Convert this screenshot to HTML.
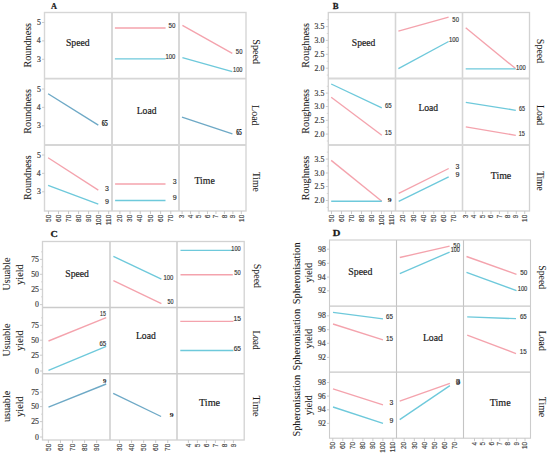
<!DOCTYPE html><html><head><meta charset="utf-8"><style>html,body{margin:0;padding:0;background:#fff;}svg{display:block;}</style></head><body>
<svg width="550" height="456" viewBox="0 0 550 456">
<rect width="550" height="456" fill="#fff"/>
<line x1="112" y1="12.5" x2="112" y2="211" stroke="#d8d8d8" stroke-width="2.0"/>
<line x1="179" y1="12.5" x2="179" y2="211" stroke="#d8d8d8" stroke-width="2.0"/>
<line x1="44.5" y1="78.7" x2="246" y2="78.7" stroke="#d6d6d6" stroke-width="1.8"/>
<line x1="44.5" y1="145" x2="246" y2="145" stroke="#d6d6d6" stroke-width="1.8"/>
<rect x="44.5" y="12.5" width="201.5" height="198.5" fill="none" stroke="#d6d6d6" stroke-width="1.4"/>
<line x1="42" y1="22.5" x2="44.5" y2="22.5" stroke="#c6c6c6" stroke-width="0.9"/>
<text transform="translate(36.91,25.02) scale(1.0000,1)" font-family="Liberation Serif" font-weight="normal" font-size="7.800" fill="#444" stroke="#444" stroke-width="0.2">5</text>
<line x1="42" y1="40.9" x2="44.5" y2="40.9" stroke="#c6c6c6" stroke-width="0.9"/>
<text transform="translate(36.72,43.47) scale(1.0000,1)" font-family="Liberation Serif" font-weight="normal" font-size="7.800" fill="#444" stroke="#444" stroke-width="0.2">4</text>
<line x1="42" y1="59.3" x2="44.5" y2="59.3" stroke="#c6c6c6" stroke-width="0.9"/>
<text transform="translate(36.91,61.83) scale(1.0000,1)" font-family="Liberation Serif" font-weight="normal" font-size="7.800" fill="#444" stroke="#444" stroke-width="0.2">3</text>
<line x1="42" y1="89" x2="44.5" y2="89" stroke="#c6c6c6" stroke-width="0.9"/>
<text transform="translate(36.91,91.52) scale(1.0000,1)" font-family="Liberation Serif" font-weight="normal" font-size="7.800" fill="#444" stroke="#444" stroke-width="0.2">5</text>
<line x1="42" y1="107.4" x2="44.5" y2="107.4" stroke="#c6c6c6" stroke-width="0.9"/>
<text transform="translate(36.72,109.97) scale(1.0000,1)" font-family="Liberation Serif" font-weight="normal" font-size="7.800" fill="#444" stroke="#444" stroke-width="0.2">4</text>
<line x1="42" y1="125.8" x2="44.5" y2="125.8" stroke="#c6c6c6" stroke-width="0.9"/>
<text transform="translate(36.91,128.34) scale(1.0000,1)" font-family="Liberation Serif" font-weight="normal" font-size="7.800" fill="#444" stroke="#444" stroke-width="0.2">3</text>
<line x1="42" y1="155" x2="44.5" y2="155" stroke="#c6c6c6" stroke-width="0.9"/>
<text transform="translate(36.91,157.52) scale(1.0000,1)" font-family="Liberation Serif" font-weight="normal" font-size="7.800" fill="#444" stroke="#444" stroke-width="0.2">5</text>
<line x1="42" y1="173.4" x2="44.5" y2="173.4" stroke="#c6c6c6" stroke-width="0.9"/>
<text transform="translate(36.72,175.97) scale(1.0000,1)" font-family="Liberation Serif" font-weight="normal" font-size="7.800" fill="#444" stroke="#444" stroke-width="0.2">4</text>
<line x1="42" y1="191.8" x2="44.5" y2="191.8" stroke="#c6c6c6" stroke-width="0.9"/>
<text transform="translate(36.91,194.34) scale(1.0000,1)" font-family="Liberation Serif" font-weight="normal" font-size="7.800" fill="#444" stroke="#444" stroke-width="0.2">3</text>
<line x1="48.5" y1="211" x2="48.5" y2="214" stroke="#c4c4c4" stroke-width="0.9"/>
<text transform="translate(50.71,221.88) rotate(-90) scale(1.0000,1)" font-family="Liberation Sans" font-weight="normal" font-size="6.400" fill="#444" stroke="#444" stroke-width="0.15">50</text>
<line x1="58.53" y1="211" x2="58.53" y2="214" stroke="#c4c4c4" stroke-width="0.9"/>
<text transform="translate(60.74,221.88) rotate(-90) scale(1.0000,1)" font-family="Liberation Sans" font-weight="normal" font-size="6.400" fill="#444" stroke="#444" stroke-width="0.15">60</text>
<line x1="68.56" y1="211" x2="68.56" y2="214" stroke="#c4c4c4" stroke-width="0.9"/>
<text transform="translate(70.77,221.88) rotate(-90) scale(1.0000,1)" font-family="Liberation Sans" font-weight="normal" font-size="6.400" fill="#444" stroke="#444" stroke-width="0.15">70</text>
<line x1="78.59" y1="211" x2="78.59" y2="214" stroke="#c4c4c4" stroke-width="0.9"/>
<text transform="translate(80.8,221.88) rotate(-90) scale(1.0000,1)" font-family="Liberation Sans" font-weight="normal" font-size="6.400" fill="#444" stroke="#444" stroke-width="0.15">80</text>
<line x1="88.62" y1="211" x2="88.62" y2="214" stroke="#c4c4c4" stroke-width="0.9"/>
<text transform="translate(90.83,221.88) rotate(-90) scale(1.0000,1)" font-family="Liberation Sans" font-weight="normal" font-size="6.400" fill="#444" stroke="#444" stroke-width="0.15">90</text>
<line x1="98.65" y1="211" x2="98.65" y2="214" stroke="#c4c4c4" stroke-width="0.9"/>
<text transform="translate(100.86,225.43) rotate(-90) scale(1.0000,1)" font-family="Liberation Sans" font-weight="normal" font-size="6.400" fill="#444" stroke="#444" stroke-width="0.15">100</text>
<line x1="108.68" y1="211" x2="108.68" y2="214" stroke="#c4c4c4" stroke-width="0.9"/>
<text transform="translate(110.89,224.98) rotate(-90) scale(1.0000,1)" font-family="Liberation Sans" font-weight="normal" font-size="6.400" fill="#444" stroke="#444" stroke-width="0.15">110</text>
<line x1="119.9" y1="211" x2="119.9" y2="214" stroke="#c4c4c4" stroke-width="0.9"/>
<text transform="translate(122.11,221.88) rotate(-90) scale(1.0000,1)" font-family="Liberation Sans" font-weight="normal" font-size="6.400" fill="#444" stroke="#444" stroke-width="0.15">20</text>
<line x1="130.08" y1="211" x2="130.08" y2="214" stroke="#c4c4c4" stroke-width="0.9"/>
<text transform="translate(132.29,221.88) rotate(-90) scale(1.0000,1)" font-family="Liberation Sans" font-weight="normal" font-size="6.400" fill="#444" stroke="#444" stroke-width="0.15">30</text>
<line x1="140.26" y1="211" x2="140.26" y2="214" stroke="#c4c4c4" stroke-width="0.9"/>
<text transform="translate(142.47,221.88) rotate(-90) scale(1.0000,1)" font-family="Liberation Sans" font-weight="normal" font-size="6.400" fill="#444" stroke="#444" stroke-width="0.15">40</text>
<line x1="150.44" y1="211" x2="150.44" y2="214" stroke="#c4c4c4" stroke-width="0.9"/>
<text transform="translate(152.65,221.88) rotate(-90) scale(1.0000,1)" font-family="Liberation Sans" font-weight="normal" font-size="6.400" fill="#444" stroke="#444" stroke-width="0.15">50</text>
<line x1="160.62" y1="211" x2="160.62" y2="214" stroke="#c4c4c4" stroke-width="0.9"/>
<text transform="translate(162.83,221.88) rotate(-90) scale(1.0000,1)" font-family="Liberation Sans" font-weight="normal" font-size="6.400" fill="#444" stroke="#444" stroke-width="0.15">60</text>
<line x1="170.8" y1="211" x2="170.8" y2="214" stroke="#c4c4c4" stroke-width="0.9"/>
<text transform="translate(173.01,221.88) rotate(-90) scale(1.0000,1)" font-family="Liberation Sans" font-weight="normal" font-size="6.400" fill="#444" stroke="#444" stroke-width="0.15">70</text>
<line x1="182.1" y1="211" x2="182.1" y2="214" stroke="#c4c4c4" stroke-width="0.9"/>
<text transform="translate(184.31,218.3) rotate(-90) scale(1.0000,1)" font-family="Liberation Sans" font-weight="normal" font-size="6.400" fill="#444" stroke="#444" stroke-width="0.15">3</text>
<line x1="190.56" y1="211" x2="190.56" y2="214" stroke="#c4c4c4" stroke-width="0.9"/>
<text transform="translate(192.77,218.36) rotate(-90) scale(1.0000,1)" font-family="Liberation Sans" font-weight="normal" font-size="6.400" fill="#444" stroke="#444" stroke-width="0.15">4</text>
<line x1="199.02" y1="211" x2="199.02" y2="214" stroke="#c4c4c4" stroke-width="0.9"/>
<text transform="translate(201.2,218.3) rotate(-90) scale(1.0000,1)" font-family="Liberation Sans" font-weight="normal" font-size="6.400" fill="#444" stroke="#444" stroke-width="0.15">5</text>
<line x1="207.48" y1="211" x2="207.48" y2="214" stroke="#c4c4c4" stroke-width="0.9"/>
<text transform="translate(209.69,218.3) rotate(-90) scale(1.0000,1)" font-family="Liberation Sans" font-weight="normal" font-size="6.400" fill="#444" stroke="#444" stroke-width="0.15">6</text>
<line x1="215.94" y1="211" x2="215.94" y2="214" stroke="#c4c4c4" stroke-width="0.9"/>
<text transform="translate(218.15,218.23) rotate(-90) scale(1.0000,1)" font-family="Liberation Sans" font-weight="normal" font-size="6.400" fill="#444" stroke="#444" stroke-width="0.15">7</text>
<line x1="224.4" y1="211" x2="224.4" y2="214" stroke="#c4c4c4" stroke-width="0.9"/>
<text transform="translate(226.61,218.3) rotate(-90) scale(1.0000,1)" font-family="Liberation Sans" font-weight="normal" font-size="6.400" fill="#444" stroke="#444" stroke-width="0.15">8</text>
<line x1="232.86" y1="211" x2="232.86" y2="214" stroke="#c4c4c4" stroke-width="0.9"/>
<text transform="translate(235.07,218.26) rotate(-90) scale(1.0000,1)" font-family="Liberation Sans" font-weight="normal" font-size="6.400" fill="#444" stroke="#444" stroke-width="0.15">9</text>
<line x1="241.32" y1="211" x2="241.32" y2="214" stroke="#c4c4c4" stroke-width="0.9"/>
<text transform="translate(243.53,221.88) rotate(-90) scale(1.0000,1)" font-family="Liberation Sans" font-weight="normal" font-size="6.400" fill="#444" stroke="#444" stroke-width="0.15">10</text>
<text transform="translate(31.07,67.51) rotate(-90) scale(1.0000,1)" font-family="Liberation Serif" font-weight="normal" font-size="10.173" fill="#1a1a1a" stroke="#1a1a1a" stroke-width="0.08">Roundness</text>
<text transform="translate(31.07,133.71) rotate(-90) scale(1.0000,1)" font-family="Liberation Serif" font-weight="normal" font-size="10.173" fill="#1a1a1a" stroke="#1a1a1a" stroke-width="0.08">Roundness</text>
<text transform="translate(31.07,199.91) rotate(-90) scale(1.0000,1)" font-family="Liberation Serif" font-weight="normal" font-size="10.173" fill="#1a1a1a" stroke="#1a1a1a" stroke-width="0.08">Roundness</text>
<text transform="translate(252.93,39.34) rotate(90) scale(1.0000,1)" font-family="Liberation Serif" font-weight="normal" font-size="10.169" fill="#1a1a1a" stroke="#1a1a1a" stroke-width="0.05">Speed</text>
<text transform="translate(252.47,105.1) rotate(90) scale(1.0000,1)" font-family="Liberation Serif" font-weight="normal" font-size="9.975" fill="#1a1a1a" stroke="#1a1a1a" stroke-width="0.05">Load</text>
<text transform="translate(253.03,171.81) rotate(90) scale(1.0000,1)" font-family="Liberation Serif" font-weight="normal" font-size="9.653" fill="#1a1a1a" stroke="#1a1a1a" stroke-width="0.05">Time</text>
<text transform="translate(65.97,46.34) scale(1.0000,1)" font-family="Liberation Serif" font-weight="normal" font-size="9.705" fill="#1a1a1a" stroke="#1a1a1a" stroke-width="0.18">Speed</text>
<text transform="translate(136.71,114.23) scale(1.0000,1)" font-family="Liberation Serif" font-weight="normal" font-size="9.677" fill="#1a1a1a" stroke="#1a1a1a" stroke-width="0.18">Load</text>
<text transform="translate(194.4,183.87) scale(1.0000,1)" font-family="Liberation Serif" font-weight="normal" font-size="9.802" fill="#1a1a1a" stroke="#1a1a1a" stroke-width="0.18">Time</text>
<line x1="114.9" y1="28" x2="165.6" y2="28" stroke="#f4a3ad" stroke-width="1.35"/>
<line x1="114.9" y1="58.8" x2="165.6" y2="58.8" stroke="#6ec9db" stroke-width="1.35"/>
<line x1="182.4" y1="25.4" x2="232.3" y2="53.3" stroke="#f4a3ad" stroke-width="1.35"/>
<line x1="182.4" y1="57.6" x2="232.3" y2="71.7" stroke="#6ec9db" stroke-width="1.35"/>
<line x1="48.1" y1="93.8" x2="98.3" y2="125.1" stroke="#6ea9c6" stroke-width="1.35"/>
<line x1="182" y1="117.1" x2="232.4" y2="133.9" stroke="#6ea9c6" stroke-width="1.35"/>
<line x1="48.1" y1="157.7" x2="98.3" y2="190.1" stroke="#f4a3ad" stroke-width="1.35"/>
<line x1="48.1" y1="185.3" x2="98.3" y2="204.1" stroke="#6ec9db" stroke-width="1.35"/>
<line x1="115.1" y1="184" x2="165.5" y2="184" stroke="#f4a3ad" stroke-width="1.35"/>
<line x1="115.1" y1="200.5" x2="165.5" y2="200.5" stroke="#6ec9db" stroke-width="1.35"/>
<text transform="translate(168.55,28.04) scale(0.9544,1)" font-family="Liberation Sans" font-weight="normal" font-size="6.479" fill="#333" stroke="#333" stroke-width="0.15">50</text>
<text transform="translate(165.56,59.04) scale(0.9132,1)" font-family="Liberation Sans" font-weight="normal" font-size="6.479" fill="#333" stroke="#333" stroke-width="0.15">100</text>
<text transform="translate(235.86,53.84) scale(0.9097,1)" font-family="Liberation Sans" font-weight="normal" font-size="6.479" fill="#333" stroke="#333" stroke-width="0.15">50</text>
<text transform="translate(233.08,71.84) scale(0.8636,1)" font-family="Liberation Sans" font-weight="normal" font-size="6.479" fill="#333" stroke="#333" stroke-width="0.15">100</text>
<text transform="translate(101.79,125.93) scale(0.8213,1)" font-family="Liberation Serif" font-weight="bold" font-size="7.463" fill="#222" stroke="#222" stroke-width="0.15">65</text>
<text transform="translate(236.3,134.83) scale(0.7492,1)" font-family="Liberation Serif" font-weight="bold" font-size="7.463" fill="#222" stroke="#222" stroke-width="0.15">65</text>
<text transform="translate(104.92,190.64) scale(1.0723,1)" font-family="Liberation Sans" font-weight="normal" font-size="6.479" fill="#333" stroke="#333" stroke-width="0.15">3</text>
<text transform="translate(104.88,204.44) scale(1.0954,1)" font-family="Liberation Sans" font-weight="normal" font-size="6.479" fill="#333" stroke="#333" stroke-width="0.15">9</text>
<text transform="translate(172.72,183.84) scale(1.0723,1)" font-family="Liberation Sans" font-weight="normal" font-size="6.479" fill="#333" stroke="#333" stroke-width="0.15">3</text>
<text transform="translate(172.68,200.34) scale(1.0954,1)" font-family="Liberation Sans" font-weight="normal" font-size="6.479" fill="#333" stroke="#333" stroke-width="0.15">9</text>
<text transform="translate(50.92,9) scale(0.9362,1)" font-family="Liberation Serif" font-weight="bold" font-size="8.788" fill="#1a1a1a" stroke="#1a1a1a" stroke-width="0.25">A</text>
<line x1="395.5" y1="12.5" x2="395.5" y2="211" stroke="#d5d5d5" stroke-width="1.6"/>
<line x1="462.5" y1="12.5" x2="462.5" y2="211" stroke="#d5d5d5" stroke-width="1.6"/>
<line x1="328.3" y1="78.5" x2="529.5" y2="78.5" stroke="#d8d8d8" stroke-width="1.9"/>
<line x1="328.3" y1="145" x2="529.5" y2="145" stroke="#d8d8d8" stroke-width="1.9"/>
<rect x="328.3" y="12.5" width="201.2" height="198.5" fill="none" stroke="#d2d2d2" stroke-width="1.3"/>
<line x1="325.8" y1="26.6" x2="328.3" y2="26.6" stroke="#c6c6c6" stroke-width="0.9"/>
<text transform="translate(314.56,29.12) scale(1.0000,1)" font-family="Liberation Serif" font-weight="normal" font-size="7.800" fill="#444" stroke="#444" stroke-width="0.2">3.5</text>
<line x1="325.8" y1="40.4" x2="328.3" y2="40.4" stroke="#c6c6c6" stroke-width="0.9"/>
<text transform="translate(314.56,42.94) scale(1.0000,1)" font-family="Liberation Serif" font-weight="normal" font-size="7.800" fill="#444" stroke="#444" stroke-width="0.2">3.0</text>
<line x1="325.8" y1="54.3" x2="328.3" y2="54.3" stroke="#c6c6c6" stroke-width="0.9"/>
<text transform="translate(314.56,56.82) scale(1.0000,1)" font-family="Liberation Serif" font-weight="normal" font-size="7.800" fill="#444" stroke="#444" stroke-width="0.2">2.5</text>
<line x1="325.8" y1="68.2" x2="328.3" y2="68.2" stroke="#c6c6c6" stroke-width="0.9"/>
<text transform="translate(314.56,70.73) scale(1.0000,1)" font-family="Liberation Serif" font-weight="normal" font-size="7.800" fill="#444" stroke="#444" stroke-width="0.2">2.0</text>
<line x1="326.8" y1="19.7" x2="328.3" y2="19.7" stroke="#cfcfcf" stroke-width="0.8"/>
<line x1="326.8" y1="33.5" x2="328.3" y2="33.5" stroke="#cfcfcf" stroke-width="0.8"/>
<line x1="326.8" y1="47.4" x2="328.3" y2="47.4" stroke="#cfcfcf" stroke-width="0.8"/>
<line x1="326.8" y1="61.3" x2="328.3" y2="61.3" stroke="#cfcfcf" stroke-width="0.8"/>
<line x1="326.8" y1="75.1" x2="328.3" y2="75.1" stroke="#cfcfcf" stroke-width="0.8"/>
<line x1="325.8" y1="93.1" x2="328.3" y2="93.1" stroke="#c6c6c6" stroke-width="0.9"/>
<text transform="translate(314.56,95.62) scale(1.0000,1)" font-family="Liberation Serif" font-weight="normal" font-size="7.800" fill="#444" stroke="#444" stroke-width="0.2">3.5</text>
<line x1="325.8" y1="106.5" x2="328.3" y2="106.5" stroke="#c6c6c6" stroke-width="0.9"/>
<text transform="translate(314.56,109.03) scale(1.0000,1)" font-family="Liberation Serif" font-weight="normal" font-size="7.800" fill="#444" stroke="#444" stroke-width="0.2">3.0</text>
<line x1="325.8" y1="120.3" x2="328.3" y2="120.3" stroke="#c6c6c6" stroke-width="0.9"/>
<text transform="translate(314.56,122.82) scale(1.0000,1)" font-family="Liberation Serif" font-weight="normal" font-size="7.800" fill="#444" stroke="#444" stroke-width="0.2">2.5</text>
<line x1="325.8" y1="134.1" x2="328.3" y2="134.1" stroke="#c6c6c6" stroke-width="0.9"/>
<text transform="translate(314.56,136.63) scale(1.0000,1)" font-family="Liberation Serif" font-weight="normal" font-size="7.800" fill="#444" stroke="#444" stroke-width="0.2">2.0</text>
<line x1="326.8" y1="86.3" x2="328.3" y2="86.3" stroke="#cfcfcf" stroke-width="0.8"/>
<line x1="326.8" y1="100" x2="328.3" y2="100" stroke="#cfcfcf" stroke-width="0.8"/>
<line x1="326.8" y1="113.4" x2="328.3" y2="113.4" stroke="#cfcfcf" stroke-width="0.8"/>
<line x1="326.8" y1="127.2" x2="328.3" y2="127.2" stroke="#cfcfcf" stroke-width="0.8"/>
<line x1="326.8" y1="141" x2="328.3" y2="141" stroke="#cfcfcf" stroke-width="0.8"/>
<line x1="325.8" y1="159.1" x2="328.3" y2="159.1" stroke="#c6c6c6" stroke-width="0.9"/>
<text transform="translate(314.56,161.62) scale(1.0000,1)" font-family="Liberation Serif" font-weight="normal" font-size="7.800" fill="#444" stroke="#444" stroke-width="0.2">3.5</text>
<line x1="325.8" y1="173" x2="328.3" y2="173" stroke="#c6c6c6" stroke-width="0.9"/>
<text transform="translate(314.56,175.53) scale(1.0000,1)" font-family="Liberation Serif" font-weight="normal" font-size="7.800" fill="#444" stroke="#444" stroke-width="0.2">3.0</text>
<line x1="325.8" y1="186.5" x2="328.3" y2="186.5" stroke="#c6c6c6" stroke-width="0.9"/>
<text transform="translate(314.56,189.02) scale(1.0000,1)" font-family="Liberation Serif" font-weight="normal" font-size="7.800" fill="#444" stroke="#444" stroke-width="0.2">2.5</text>
<line x1="325.8" y1="200.5" x2="328.3" y2="200.5" stroke="#c6c6c6" stroke-width="0.9"/>
<text transform="translate(314.56,203.03) scale(1.0000,1)" font-family="Liberation Serif" font-weight="normal" font-size="7.800" fill="#444" stroke="#444" stroke-width="0.2">2.0</text>
<line x1="326.8" y1="152.1" x2="328.3" y2="152.1" stroke="#cfcfcf" stroke-width="0.8"/>
<line x1="326.8" y1="166" x2="328.3" y2="166" stroke="#cfcfcf" stroke-width="0.8"/>
<line x1="326.8" y1="179.8" x2="328.3" y2="179.8" stroke="#cfcfcf" stroke-width="0.8"/>
<line x1="326.8" y1="193.5" x2="328.3" y2="193.5" stroke="#cfcfcf" stroke-width="0.8"/>
<line x1="326.8" y1="207.4" x2="328.3" y2="207.4" stroke="#cfcfcf" stroke-width="0.8"/>
<line x1="331.5" y1="211" x2="331.5" y2="214" stroke="#c4c4c4" stroke-width="0.9"/>
<text transform="translate(333.71,221.88) rotate(-90) scale(1.0000,1)" font-family="Liberation Sans" font-weight="normal" font-size="6.400" fill="#444" stroke="#444" stroke-width="0.15">50</text>
<line x1="341.5" y1="211" x2="341.5" y2="214" stroke="#c4c4c4" stroke-width="0.9"/>
<text transform="translate(343.71,221.88) rotate(-90) scale(1.0000,1)" font-family="Liberation Sans" font-weight="normal" font-size="6.400" fill="#444" stroke="#444" stroke-width="0.15">60</text>
<line x1="351.5" y1="211" x2="351.5" y2="214" stroke="#c4c4c4" stroke-width="0.9"/>
<text transform="translate(353.71,221.88) rotate(-90) scale(1.0000,1)" font-family="Liberation Sans" font-weight="normal" font-size="6.400" fill="#444" stroke="#444" stroke-width="0.15">70</text>
<line x1="361.5" y1="211" x2="361.5" y2="214" stroke="#c4c4c4" stroke-width="0.9"/>
<text transform="translate(363.71,221.88) rotate(-90) scale(1.0000,1)" font-family="Liberation Sans" font-weight="normal" font-size="6.400" fill="#444" stroke="#444" stroke-width="0.15">80</text>
<line x1="371.5" y1="211" x2="371.5" y2="214" stroke="#c4c4c4" stroke-width="0.9"/>
<text transform="translate(373.71,221.88) rotate(-90) scale(1.0000,1)" font-family="Liberation Sans" font-weight="normal" font-size="6.400" fill="#444" stroke="#444" stroke-width="0.15">90</text>
<line x1="381.5" y1="211" x2="381.5" y2="214" stroke="#c4c4c4" stroke-width="0.9"/>
<text transform="translate(383.71,225.43) rotate(-90) scale(1.0000,1)" font-family="Liberation Sans" font-weight="normal" font-size="6.400" fill="#444" stroke="#444" stroke-width="0.15">100</text>
<line x1="391.5" y1="211" x2="391.5" y2="214" stroke="#c4c4c4" stroke-width="0.9"/>
<text transform="translate(393.71,224.98) rotate(-90) scale(1.0000,1)" font-family="Liberation Sans" font-weight="normal" font-size="6.400" fill="#444" stroke="#444" stroke-width="0.15">110</text>
<line x1="403.2" y1="211" x2="403.2" y2="214" stroke="#c4c4c4" stroke-width="0.9"/>
<text transform="translate(405.41,221.88) rotate(-90) scale(1.0000,1)" font-family="Liberation Sans" font-weight="normal" font-size="6.400" fill="#444" stroke="#444" stroke-width="0.15">20</text>
<line x1="413.4" y1="211" x2="413.4" y2="214" stroke="#c4c4c4" stroke-width="0.9"/>
<text transform="translate(415.61,221.88) rotate(-90) scale(1.0000,1)" font-family="Liberation Sans" font-weight="normal" font-size="6.400" fill="#444" stroke="#444" stroke-width="0.15">30</text>
<line x1="423.6" y1="211" x2="423.6" y2="214" stroke="#c4c4c4" stroke-width="0.9"/>
<text transform="translate(425.81,221.88) rotate(-90) scale(1.0000,1)" font-family="Liberation Sans" font-weight="normal" font-size="6.400" fill="#444" stroke="#444" stroke-width="0.15">40</text>
<line x1="433.8" y1="211" x2="433.8" y2="214" stroke="#c4c4c4" stroke-width="0.9"/>
<text transform="translate(436.01,221.88) rotate(-90) scale(1.0000,1)" font-family="Liberation Sans" font-weight="normal" font-size="6.400" fill="#444" stroke="#444" stroke-width="0.15">50</text>
<line x1="444" y1="211" x2="444" y2="214" stroke="#c4c4c4" stroke-width="0.9"/>
<text transform="translate(446.21,221.88) rotate(-90) scale(1.0000,1)" font-family="Liberation Sans" font-weight="normal" font-size="6.400" fill="#444" stroke="#444" stroke-width="0.15">60</text>
<line x1="454.2" y1="211" x2="454.2" y2="214" stroke="#c4c4c4" stroke-width="0.9"/>
<text transform="translate(456.41,221.88) rotate(-90) scale(1.0000,1)" font-family="Liberation Sans" font-weight="normal" font-size="6.400" fill="#444" stroke="#444" stroke-width="0.15">70</text>
<line x1="465.7" y1="211" x2="465.7" y2="214" stroke="#c4c4c4" stroke-width="0.9"/>
<text transform="translate(467.91,218.3) rotate(-90) scale(1.0000,1)" font-family="Liberation Sans" font-weight="normal" font-size="6.400" fill="#444" stroke="#444" stroke-width="0.15">3</text>
<line x1="474.13" y1="211" x2="474.13" y2="214" stroke="#c4c4c4" stroke-width="0.9"/>
<text transform="translate(476.34,218.36) rotate(-90) scale(1.0000,1)" font-family="Liberation Sans" font-weight="normal" font-size="6.400" fill="#444" stroke="#444" stroke-width="0.15">4</text>
<line x1="482.56" y1="211" x2="482.56" y2="214" stroke="#c4c4c4" stroke-width="0.9"/>
<text transform="translate(484.74,218.3) rotate(-90) scale(1.0000,1)" font-family="Liberation Sans" font-weight="normal" font-size="6.400" fill="#444" stroke="#444" stroke-width="0.15">5</text>
<line x1="490.99" y1="211" x2="490.99" y2="214" stroke="#c4c4c4" stroke-width="0.9"/>
<text transform="translate(493.2,218.3) rotate(-90) scale(1.0000,1)" font-family="Liberation Sans" font-weight="normal" font-size="6.400" fill="#444" stroke="#444" stroke-width="0.15">6</text>
<line x1="499.42" y1="211" x2="499.42" y2="214" stroke="#c4c4c4" stroke-width="0.9"/>
<text transform="translate(501.63,218.23) rotate(-90) scale(1.0000,1)" font-family="Liberation Sans" font-weight="normal" font-size="6.400" fill="#444" stroke="#444" stroke-width="0.15">7</text>
<line x1="507.85" y1="211" x2="507.85" y2="214" stroke="#c4c4c4" stroke-width="0.9"/>
<text transform="translate(510.06,218.3) rotate(-90) scale(1.0000,1)" font-family="Liberation Sans" font-weight="normal" font-size="6.400" fill="#444" stroke="#444" stroke-width="0.15">8</text>
<line x1="516.28" y1="211" x2="516.28" y2="214" stroke="#c4c4c4" stroke-width="0.9"/>
<text transform="translate(518.49,218.26) rotate(-90) scale(1.0000,1)" font-family="Liberation Sans" font-weight="normal" font-size="6.400" fill="#444" stroke="#444" stroke-width="0.15">9</text>
<line x1="524.71" y1="211" x2="524.71" y2="214" stroke="#c4c4c4" stroke-width="0.9"/>
<text transform="translate(526.92,221.88) rotate(-90) scale(1.0000,1)" font-family="Liberation Sans" font-weight="normal" font-size="6.400" fill="#444" stroke="#444" stroke-width="0.15">10</text>
<text transform="translate(309.27,67.71) rotate(-90) scale(1.0000,1)" font-family="Liberation Serif" font-weight="normal" font-size="10.173" fill="#1a1a1a" stroke="#1a1a1a" stroke-width="0.08">Roughness</text>
<text transform="translate(309.27,133.71) rotate(-90) scale(1.0000,1)" font-family="Liberation Serif" font-weight="normal" font-size="10.173" fill="#1a1a1a" stroke="#1a1a1a" stroke-width="0.08">Roughness</text>
<text transform="translate(309.27,200.31) rotate(-90) scale(1.0000,1)" font-family="Liberation Serif" font-weight="normal" font-size="10.173" fill="#1a1a1a" stroke="#1a1a1a" stroke-width="0.08">Roughness</text>
<text transform="translate(537.35,38.85) rotate(90) scale(1.0000,1)" font-family="Liberation Serif" font-weight="normal" font-size="10.000" fill="#1a1a1a" stroke="#1a1a1a" stroke-width="0.05">Speed</text>
<text transform="translate(536.61,105.11) rotate(90) scale(1.0000,1)" font-family="Liberation Serif" font-weight="normal" font-size="9.777" fill="#1a1a1a" stroke="#1a1a1a" stroke-width="0.05">Load</text>
<text transform="translate(537.06,170.91) rotate(90) scale(1.0000,1)" font-family="Liberation Serif" font-weight="normal" font-size="9.604" fill="#1a1a1a" stroke="#1a1a1a" stroke-width="0.05">Time</text>
<text transform="translate(351.87,46.39) scale(1.0000,1)" font-family="Liberation Serif" font-weight="normal" font-size="9.620" fill="#1a1a1a" stroke="#1a1a1a" stroke-width="0.18">Speed</text>
<text transform="translate(418.41,111.19) scale(1.0000,1)" font-family="Liberation Serif" font-weight="normal" font-size="9.628" fill="#1a1a1a" stroke="#1a1a1a" stroke-width="0.18">Load</text>
<text transform="translate(490.7,178.53) scale(1.0000,1)" font-family="Liberation Serif" font-weight="normal" font-size="9.901" fill="#1a1a1a" stroke="#1a1a1a" stroke-width="0.18">Time</text>
<line x1="398.4" y1="31.2" x2="448.6" y2="17.2" stroke="#f4a3ad" stroke-width="1.35"/>
<line x1="398.4" y1="68.6" x2="448.6" y2="41.5" stroke="#6ec9db" stroke-width="1.35"/>
<line x1="465.7" y1="27.7" x2="515.6" y2="68.6" stroke="#f4a3ad" stroke-width="1.35"/>
<line x1="465.7" y1="68.9" x2="515.6" y2="68.9" stroke="#6ec9db" stroke-width="1.35"/>
<line x1="331.2" y1="84" x2="381.8" y2="107.8" stroke="#6ec9db" stroke-width="1.35"/>
<line x1="331.2" y1="97.3" x2="381.8" y2="135.2" stroke="#f4a3ad" stroke-width="1.35"/>
<line x1="465.8" y1="102.3" x2="515.8" y2="110.3" stroke="#6ec9db" stroke-width="1.35"/>
<line x1="465.8" y1="126.8" x2="515.8" y2="135.4" stroke="#f4a3ad" stroke-width="1.35"/>
<line x1="331.2" y1="160.4" x2="381.8" y2="201.2" stroke="#f4a3ad" stroke-width="1.35"/>
<line x1="331.2" y1="201.2" x2="381.8" y2="201.2" stroke="#6ec9db" stroke-width="1.35"/>
<line x1="398.7" y1="193.4" x2="448.7" y2="168.5" stroke="#f4a3ad" stroke-width="1.35"/>
<line x1="398.7" y1="201.4" x2="448.7" y2="176.8" stroke="#6ec9db" stroke-width="1.35"/>
<text transform="translate(452.36,21.74) scale(0.9097,1)" font-family="Liberation Sans" font-weight="normal" font-size="6.479" fill="#333" stroke="#333" stroke-width="0.15">50</text>
<text transform="translate(449.06,41.74) scale(0.9132,1)" font-family="Liberation Sans" font-weight="normal" font-size="6.479" fill="#333" stroke="#333" stroke-width="0.15">100</text>
<text transform="translate(516.07,69.54) scale(0.8933,1)" font-family="Liberation Sans" font-weight="normal" font-size="6.479" fill="#333" stroke="#333" stroke-width="0.15">100</text>
<text transform="translate(384.9,108.14) scale(0.9382,1)" font-family="Liberation Sans" font-weight="normal" font-size="6.479" fill="#333" stroke="#333" stroke-width="0.15">65</text>
<text transform="translate(384.73,135.33) scale(0.9482,1)" font-family="Liberation Sans" font-weight="normal" font-size="6.571" fill="#333" stroke="#333" stroke-width="0.15">15</text>
<text transform="translate(518.93,111.04) scale(0.8323,1)" font-family="Liberation Sans" font-weight="normal" font-size="6.479" fill="#333" stroke="#333" stroke-width="0.15">65</text>
<text transform="translate(518.79,135.93) scale(0.8412,1)" font-family="Liberation Sans" font-weight="normal" font-size="6.571" fill="#333" stroke="#333" stroke-width="0.15">15</text>
<text transform="translate(387.71,201.63) scale(1.1767,1)" font-family="Liberation Serif" font-weight="bold" font-size="6.567" fill="#222" stroke="#222" stroke-width="0.05">9</text>
<text transform="translate(455.52,169.04) scale(1.0723,1)" font-family="Liberation Sans" font-weight="normal" font-size="6.479" fill="#333" stroke="#333" stroke-width="0.15">3</text>
<text transform="translate(455.48,177.04) scale(1.0954,1)" font-family="Liberation Sans" font-weight="normal" font-size="6.479" fill="#333" stroke="#333" stroke-width="0.15">9</text>
<text transform="translate(332.87,8.95) scale(0.9680,1)" font-family="Liberation Serif" font-weight="bold" font-size="9.091" fill="#1a1a1a" stroke="#1a1a1a" stroke-width="0.25">B</text>
<line x1="110" y1="241.5" x2="110" y2="440" stroke="#d5d5d5" stroke-width="1.8"/>
<line x1="177" y1="241.5" x2="177" y2="440" stroke="#d5d5d5" stroke-width="1.8"/>
<line x1="42.5" y1="307.5" x2="244.2" y2="307.5" stroke="#cbcbcb" stroke-width="1.4"/>
<line x1="42.5" y1="373.8" x2="244.2" y2="373.8" stroke="#cbcbcb" stroke-width="1.4"/>
<rect x="42.5" y="241.5" width="201.7" height="198.5" fill="none" stroke="#d2d2d2" stroke-width="1.3"/>
<line x1="40" y1="259.4" x2="42.5" y2="259.4" stroke="#c6c6c6" stroke-width="0.9"/>
<text transform="translate(31.21,261.92) scale(1.0000,1)" font-family="Liberation Serif" font-weight="normal" font-size="7.800" fill="#444" stroke="#444" stroke-width="0.2">75</text>
<line x1="40" y1="274.3" x2="42.5" y2="274.3" stroke="#c6c6c6" stroke-width="0.9"/>
<text transform="translate(31.21,276.85) scale(1.0000,1)" font-family="Liberation Serif" font-weight="normal" font-size="7.800" fill="#444" stroke="#444" stroke-width="0.2">50</text>
<line x1="40" y1="289.3" x2="42.5" y2="289.3" stroke="#c6c6c6" stroke-width="0.9"/>
<text transform="translate(31.21,291.84) scale(1.0000,1)" font-family="Liberation Serif" font-weight="normal" font-size="7.800" fill="#444" stroke="#444" stroke-width="0.2">25</text>
<line x1="40" y1="304.6" x2="42.5" y2="304.6" stroke="#c6c6c6" stroke-width="0.9"/>
<text transform="translate(35.11,307.15) scale(1.0000,1)" font-family="Liberation Serif" font-weight="normal" font-size="7.800" fill="#444" stroke="#444" stroke-width="0.2">0</text>
<line x1="41" y1="251.8" x2="42.5" y2="251.8" stroke="#cfcfcf" stroke-width="0.8"/>
<line x1="41" y1="266.8" x2="42.5" y2="266.8" stroke="#cfcfcf" stroke-width="0.8"/>
<line x1="41" y1="281.8" x2="42.5" y2="281.8" stroke="#cfcfcf" stroke-width="0.8"/>
<line x1="41" y1="296.8" x2="42.5" y2="296.8" stroke="#cfcfcf" stroke-width="0.8"/>
<line x1="40" y1="325.3" x2="42.5" y2="325.3" stroke="#c6c6c6" stroke-width="0.9"/>
<text transform="translate(31.21,327.82) scale(1.0000,1)" font-family="Liberation Serif" font-weight="normal" font-size="7.800" fill="#444" stroke="#444" stroke-width="0.2">75</text>
<line x1="40" y1="340.2" x2="42.5" y2="340.2" stroke="#c6c6c6" stroke-width="0.9"/>
<text transform="translate(31.21,342.75) scale(1.0000,1)" font-family="Liberation Serif" font-weight="normal" font-size="7.800" fill="#444" stroke="#444" stroke-width="0.2">50</text>
<line x1="40" y1="355.2" x2="42.5" y2="355.2" stroke="#c6c6c6" stroke-width="0.9"/>
<text transform="translate(31.21,357.74) scale(1.0000,1)" font-family="Liberation Serif" font-weight="normal" font-size="7.800" fill="#444" stroke="#444" stroke-width="0.2">25</text>
<line x1="40" y1="371" x2="42.5" y2="371" stroke="#c6c6c6" stroke-width="0.9"/>
<text transform="translate(35.11,373.55) scale(1.0000,1)" font-family="Liberation Serif" font-weight="normal" font-size="7.800" fill="#444" stroke="#444" stroke-width="0.2">0</text>
<line x1="41" y1="317.8" x2="42.5" y2="317.8" stroke="#cfcfcf" stroke-width="0.8"/>
<line x1="41" y1="332.8" x2="42.5" y2="332.8" stroke="#cfcfcf" stroke-width="0.8"/>
<line x1="41" y1="347.8" x2="42.5" y2="347.8" stroke="#cfcfcf" stroke-width="0.8"/>
<line x1="41" y1="362.8" x2="42.5" y2="362.8" stroke="#cfcfcf" stroke-width="0.8"/>
<line x1="40" y1="392" x2="42.5" y2="392" stroke="#c6c6c6" stroke-width="0.9"/>
<text transform="translate(31.21,394.52) scale(1.0000,1)" font-family="Liberation Serif" font-weight="normal" font-size="7.800" fill="#444" stroke="#444" stroke-width="0.2">75</text>
<line x1="40" y1="406.6" x2="42.5" y2="406.6" stroke="#c6c6c6" stroke-width="0.9"/>
<text transform="translate(31.21,409.15) scale(1.0000,1)" font-family="Liberation Serif" font-weight="normal" font-size="7.800" fill="#444" stroke="#444" stroke-width="0.2">50</text>
<line x1="40" y1="421.6" x2="42.5" y2="421.6" stroke="#c6c6c6" stroke-width="0.9"/>
<text transform="translate(31.21,424.14) scale(1.0000,1)" font-family="Liberation Serif" font-weight="normal" font-size="7.800" fill="#444" stroke="#444" stroke-width="0.2">25</text>
<line x1="40" y1="437" x2="42.5" y2="437" stroke="#c6c6c6" stroke-width="0.9"/>
<text transform="translate(35.11,439.55) scale(1.0000,1)" font-family="Liberation Serif" font-weight="normal" font-size="7.800" fill="#444" stroke="#444" stroke-width="0.2">0</text>
<line x1="41" y1="384.4" x2="42.5" y2="384.4" stroke="#cfcfcf" stroke-width="0.8"/>
<line x1="41" y1="399.2" x2="42.5" y2="399.2" stroke="#cfcfcf" stroke-width="0.8"/>
<line x1="41" y1="414.2" x2="42.5" y2="414.2" stroke="#cfcfcf" stroke-width="0.8"/>
<line x1="41" y1="429.2" x2="42.5" y2="429.2" stroke="#cfcfcf" stroke-width="0.8"/>
<line x1="48.4" y1="440" x2="48.4" y2="443" stroke="#c4c4c4" stroke-width="0.9"/>
<text transform="translate(50.61,450.88) rotate(-90) scale(1.0000,1)" font-family="Liberation Sans" font-weight="normal" font-size="6.400" fill="#444" stroke="#444" stroke-width="0.15">50</text>
<line x1="60.47" y1="440" x2="60.47" y2="443" stroke="#c4c4c4" stroke-width="0.9"/>
<text transform="translate(62.68,450.88) rotate(-90) scale(1.0000,1)" font-family="Liberation Sans" font-weight="normal" font-size="6.400" fill="#444" stroke="#444" stroke-width="0.15">60</text>
<line x1="72.54" y1="440" x2="72.54" y2="443" stroke="#c4c4c4" stroke-width="0.9"/>
<text transform="translate(74.75,450.88) rotate(-90) scale(1.0000,1)" font-family="Liberation Sans" font-weight="normal" font-size="6.400" fill="#444" stroke="#444" stroke-width="0.15">70</text>
<line x1="84.61" y1="440" x2="84.61" y2="443" stroke="#c4c4c4" stroke-width="0.9"/>
<text transform="translate(86.82,450.88) rotate(-90) scale(1.0000,1)" font-family="Liberation Sans" font-weight="normal" font-size="6.400" fill="#444" stroke="#444" stroke-width="0.15">80</text>
<line x1="96.68" y1="440" x2="96.68" y2="443" stroke="#c4c4c4" stroke-width="0.9"/>
<text transform="translate(98.89,450.88) rotate(-90) scale(1.0000,1)" font-family="Liberation Sans" font-weight="normal" font-size="6.400" fill="#444" stroke="#444" stroke-width="0.15">90</text>
<line x1="119.5" y1="440" x2="119.5" y2="443" stroke="#c4c4c4" stroke-width="0.9"/>
<text transform="translate(121.71,450.88) rotate(-90) scale(1.0000,1)" font-family="Liberation Sans" font-weight="normal" font-size="6.400" fill="#444" stroke="#444" stroke-width="0.15">30</text>
<line x1="131.57" y1="440" x2="131.57" y2="443" stroke="#c4c4c4" stroke-width="0.9"/>
<text transform="translate(133.78,450.88) rotate(-90) scale(1.0000,1)" font-family="Liberation Sans" font-weight="normal" font-size="6.400" fill="#444" stroke="#444" stroke-width="0.15">40</text>
<line x1="143.64" y1="440" x2="143.64" y2="443" stroke="#c4c4c4" stroke-width="0.9"/>
<text transform="translate(145.85,450.88) rotate(-90) scale(1.0000,1)" font-family="Liberation Sans" font-weight="normal" font-size="6.400" fill="#444" stroke="#444" stroke-width="0.15">50</text>
<line x1="155.71" y1="440" x2="155.71" y2="443" stroke="#c4c4c4" stroke-width="0.9"/>
<text transform="translate(157.92,450.88) rotate(-90) scale(1.0000,1)" font-family="Liberation Sans" font-weight="normal" font-size="6.400" fill="#444" stroke="#444" stroke-width="0.15">60</text>
<line x1="167.78" y1="440" x2="167.78" y2="443" stroke="#c4c4c4" stroke-width="0.9"/>
<text transform="translate(169.99,450.88) rotate(-90) scale(1.0000,1)" font-family="Liberation Sans" font-weight="normal" font-size="6.400" fill="#444" stroke="#444" stroke-width="0.15">70</text>
<line x1="188.4" y1="440" x2="188.4" y2="443" stroke="#c4c4c4" stroke-width="0.9"/>
<text transform="translate(190.61,447.36) rotate(-90) scale(1.0000,1)" font-family="Liberation Sans" font-weight="normal" font-size="6.400" fill="#444" stroke="#444" stroke-width="0.15">4</text>
<line x1="197.4" y1="440" x2="197.4" y2="443" stroke="#c4c4c4" stroke-width="0.9"/>
<text transform="translate(199.58,447.3) rotate(-90) scale(1.0000,1)" font-family="Liberation Sans" font-weight="normal" font-size="6.400" fill="#444" stroke="#444" stroke-width="0.15">5</text>
<line x1="206.4" y1="440" x2="206.4" y2="443" stroke="#c4c4c4" stroke-width="0.9"/>
<text transform="translate(208.61,447.3) rotate(-90) scale(1.0000,1)" font-family="Liberation Sans" font-weight="normal" font-size="6.400" fill="#444" stroke="#444" stroke-width="0.15">6</text>
<line x1="215.4" y1="440" x2="215.4" y2="443" stroke="#c4c4c4" stroke-width="0.9"/>
<text transform="translate(217.61,447.23) rotate(-90) scale(1.0000,1)" font-family="Liberation Sans" font-weight="normal" font-size="6.400" fill="#444" stroke="#444" stroke-width="0.15">7</text>
<line x1="224.4" y1="440" x2="224.4" y2="443" stroke="#c4c4c4" stroke-width="0.9"/>
<text transform="translate(226.61,447.3) rotate(-90) scale(1.0000,1)" font-family="Liberation Sans" font-weight="normal" font-size="6.400" fill="#444" stroke="#444" stroke-width="0.15">8</text>
<line x1="233.4" y1="440" x2="233.4" y2="443" stroke="#c4c4c4" stroke-width="0.9"/>
<text transform="translate(235.61,447.26) rotate(-90) scale(1.0000,1)" font-family="Liberation Sans" font-weight="normal" font-size="6.400" fill="#444" stroke="#444" stroke-width="0.15">9</text>
<text transform="translate(10.08,290.5) rotate(-90) scale(1.0000,1)" font-family="Liberation Serif" font-weight="normal" font-size="10.047" fill="#1a1a1a" stroke="#1a1a1a" stroke-width="0.08">Usuable</text>
<text transform="translate(23.32,284.7) rotate(-90) scale(1.0000,1)" font-family="Liberation Serif" font-weight="normal" font-size="10.101" fill="#1a1a1a" stroke="#1a1a1a" stroke-width="0.08">yield</text>
<text transform="translate(10.08,356.5) rotate(-90) scale(1.0000,1)" font-family="Liberation Serif" font-weight="normal" font-size="10.047" fill="#1a1a1a" stroke="#1a1a1a" stroke-width="0.08">Usuable</text>
<text transform="translate(23.32,350.7) rotate(-90) scale(1.0000,1)" font-family="Liberation Serif" font-weight="normal" font-size="10.101" fill="#1a1a1a" stroke="#1a1a1a" stroke-width="0.08">yield</text>
<text transform="translate(10.27,422.05) rotate(-90) scale(1.0000,1)" font-family="Liberation Serif" font-weight="normal" font-size="10.316" fill="#1a1a1a" stroke="#1a1a1a" stroke-width="0.08">usuable</text>
<text transform="translate(23.32,416.7) rotate(-90) scale(1.0000,1)" font-family="Liberation Serif" font-weight="normal" font-size="10.101" fill="#1a1a1a" stroke="#1a1a1a" stroke-width="0.08">yield</text>
<text transform="translate(253.58,263.75) rotate(90) scale(1.0000,1)" font-family="Liberation Serif" font-weight="normal" font-size="9.958" fill="#1a1a1a" stroke="#1a1a1a" stroke-width="0.05">Speed</text>
<text transform="translate(253.28,330.42) rotate(90) scale(1.0000,1)" font-family="Liberation Serif" font-weight="normal" font-size="9.380" fill="#1a1a1a" stroke="#1a1a1a" stroke-width="0.05">Load</text>
<text transform="translate(253.13,395.6) rotate(90) scale(1.0000,1)" font-family="Liberation Serif" font-weight="normal" font-size="10.099" fill="#1a1a1a" stroke="#1a1a1a" stroke-width="0.05">Time</text>
<text transform="translate(65.27,277.14) scale(1.0000,1)" font-family="Liberation Serif" font-weight="normal" font-size="9.705" fill="#1a1a1a" stroke="#1a1a1a" stroke-width="0.18">Speed</text>
<text transform="translate(135.91,338.93) scale(1.0000,1)" font-family="Liberation Serif" font-weight="normal" font-size="9.677" fill="#1a1a1a" stroke="#1a1a1a" stroke-width="0.18">Load</text>
<text transform="translate(198.9,405.56) scale(1.0000,1)" font-family="Liberation Serif" font-weight="normal" font-size="10.248" fill="#1a1a1a" stroke="#1a1a1a" stroke-width="0.18">Time</text>
<line x1="113.4" y1="256.4" x2="161.4" y2="279.1" stroke="#6ec9db" stroke-width="1.35"/>
<line x1="113.4" y1="280.7" x2="161.4" y2="303.7" stroke="#f4a3ad" stroke-width="1.35"/>
<line x1="180.5" y1="250.4" x2="232.8" y2="250.4" stroke="#6ec9db" stroke-width="1.35"/>
<line x1="180.5" y1="274.7" x2="232.8" y2="274.7" stroke="#f4a3ad" stroke-width="1.35"/>
<line x1="48.5" y1="341" x2="106.2" y2="317.6" stroke="#f4a3ad" stroke-width="1.35"/>
<line x1="48.5" y1="370.3" x2="106.2" y2="346.4" stroke="#6ec9db" stroke-width="1.35"/>
<line x1="180.3" y1="321.3" x2="233.4" y2="321.3" stroke="#f4a3ad" stroke-width="1.35"/>
<line x1="180.3" y1="350.5" x2="233.4" y2="350.5" stroke="#6ec9db" stroke-width="1.35"/>
<line x1="48.5" y1="407.2" x2="106.2" y2="384" stroke="#6ea9c6" stroke-width="1.35"/>
<line x1="113.2" y1="393.4" x2="161.1" y2="416.5" stroke="#6ea9c6" stroke-width="1.35"/>
<text transform="translate(163.56,279.84) scale(0.9132,1)" font-family="Liberation Sans" font-weight="normal" font-size="6.479" fill="#333" stroke="#333" stroke-width="0.15">100</text>
<text transform="translate(167.38,303.94) scale(0.8351,1)" font-family="Liberation Sans" font-weight="normal" font-size="6.479" fill="#333" stroke="#333" stroke-width="0.15">50</text>
<text transform="translate(231.28,250.74) scale(0.8735,1)" font-family="Liberation Sans" font-weight="normal" font-size="6.479" fill="#333" stroke="#333" stroke-width="0.15">100</text>
<text transform="translate(234.37,274.74) scale(0.8799,1)" font-family="Liberation Sans" font-weight="normal" font-size="6.479" fill="#333" stroke="#333" stroke-width="0.15">50</text>
<text transform="translate(100.01,316.23) scale(0.7953,1)" font-family="Liberation Sans" font-weight="normal" font-size="6.571" fill="#333" stroke="#333" stroke-width="0.15">15</text>
<text transform="translate(99.39,345.54) scale(0.9533,1)" font-family="Liberation Sans" font-weight="normal" font-size="6.479" fill="#333" stroke="#333" stroke-width="0.15">65</text>
<text transform="translate(233.49,321.43) scale(1.0247,1)" font-family="Liberation Sans" font-weight="normal" font-size="6.571" fill="#333" stroke="#333" stroke-width="0.15">15</text>
<text transform="translate(233.67,350.84) scale(1.0139,1)" font-family="Liberation Sans" font-weight="normal" font-size="6.479" fill="#333" stroke="#333" stroke-width="0.15">65</text>
<text transform="translate(102.93,382.53) scale(1.0382,1)" font-family="Liberation Serif" font-weight="bold" font-size="6.567" fill="#222" stroke="#222" stroke-width="0.05">9</text>
<text transform="translate(169.81,416.53) scale(1.1767,1)" font-family="Liberation Serif" font-weight="bold" font-size="6.567" fill="#222" stroke="#222" stroke-width="0.05">9</text>
<text transform="translate(50.5,236.51) scale(1.1261,1)" font-family="Liberation Serif" font-weight="bold" font-size="8.955" fill="#1a1a1a" stroke="#1a1a1a" stroke-width="0.25">C</text>
<line x1="396.5" y1="240" x2="396.5" y2="438.2" stroke="#c4c4c4" stroke-width="1.1"/>
<line x1="463.5" y1="240" x2="463.5" y2="438.2" stroke="#c4c4c4" stroke-width="1.1"/>
<line x1="329.5" y1="306.2" x2="530.5" y2="306.2" stroke="#c8c8c8" stroke-width="1.3"/>
<line x1="329.5" y1="372.2" x2="530.5" y2="372.2" stroke="#c8c8c8" stroke-width="1.3"/>
<rect x="329.5" y="240" width="201" height="198.2" fill="none" stroke="#cccccc" stroke-width="1.1"/>
<line x1="327" y1="249.2" x2="329.5" y2="249.2" stroke="#c6c6c6" stroke-width="0.9"/>
<text transform="translate(318.01,251.75) scale(1.0000,1)" font-family="Liberation Serif" font-weight="normal" font-size="7.800" fill="#444" stroke="#444" stroke-width="0.2">98</text>
<line x1="327" y1="263.3" x2="329.5" y2="263.3" stroke="#c6c6c6" stroke-width="0.9"/>
<text transform="translate(317.93,265.84) scale(1.0000,1)" font-family="Liberation Serif" font-weight="normal" font-size="7.800" fill="#444" stroke="#444" stroke-width="0.2">96</text>
<line x1="327" y1="277.1" x2="329.5" y2="277.1" stroke="#c6c6c6" stroke-width="0.9"/>
<text transform="translate(317.82,279.64) scale(1.0000,1)" font-family="Liberation Serif" font-weight="normal" font-size="7.800" fill="#444" stroke="#444" stroke-width="0.2">94</text>
<line x1="327" y1="290.8" x2="329.5" y2="290.8" stroke="#c6c6c6" stroke-width="0.9"/>
<text transform="translate(318.13,293.34) scale(1.0000,1)" font-family="Liberation Serif" font-weight="normal" font-size="7.800" fill="#444" stroke="#444" stroke-width="0.2">92</text>
<line x1="327" y1="315.8" x2="329.5" y2="315.8" stroke="#c6c6c6" stroke-width="0.9"/>
<text transform="translate(318.01,318.35) scale(1.0000,1)" font-family="Liberation Serif" font-weight="normal" font-size="7.800" fill="#444" stroke="#444" stroke-width="0.2">98</text>
<line x1="327" y1="329.7" x2="329.5" y2="329.7" stroke="#c6c6c6" stroke-width="0.9"/>
<text transform="translate(317.93,332.24) scale(1.0000,1)" font-family="Liberation Serif" font-weight="normal" font-size="7.800" fill="#444" stroke="#444" stroke-width="0.2">96</text>
<line x1="327" y1="343.3" x2="329.5" y2="343.3" stroke="#c6c6c6" stroke-width="0.9"/>
<text transform="translate(317.82,345.84) scale(1.0000,1)" font-family="Liberation Serif" font-weight="normal" font-size="7.800" fill="#444" stroke="#444" stroke-width="0.2">94</text>
<line x1="327" y1="357.4" x2="329.5" y2="357.4" stroke="#c6c6c6" stroke-width="0.9"/>
<text transform="translate(318.13,359.94) scale(1.0000,1)" font-family="Liberation Serif" font-weight="normal" font-size="7.800" fill="#444" stroke="#444" stroke-width="0.2">92</text>
<line x1="327" y1="382.5" x2="329.5" y2="382.5" stroke="#c6c6c6" stroke-width="0.9"/>
<text transform="translate(318.01,385.05) scale(1.0000,1)" font-family="Liberation Serif" font-weight="normal" font-size="7.800" fill="#444" stroke="#444" stroke-width="0.2">98</text>
<line x1="327" y1="396.1" x2="329.5" y2="396.1" stroke="#c6c6c6" stroke-width="0.9"/>
<text transform="translate(317.93,398.64) scale(1.0000,1)" font-family="Liberation Serif" font-weight="normal" font-size="7.800" fill="#444" stroke="#444" stroke-width="0.2">96</text>
<line x1="327" y1="409.8" x2="329.5" y2="409.8" stroke="#c6c6c6" stroke-width="0.9"/>
<text transform="translate(317.82,412.34) scale(1.0000,1)" font-family="Liberation Serif" font-weight="normal" font-size="7.800" fill="#444" stroke="#444" stroke-width="0.2">94</text>
<line x1="327" y1="423.4" x2="329.5" y2="423.4" stroke="#c6c6c6" stroke-width="0.9"/>
<text transform="translate(318.13,425.94) scale(1.0000,1)" font-family="Liberation Serif" font-weight="normal" font-size="7.800" fill="#444" stroke="#444" stroke-width="0.2">92</text>
<line x1="332.8" y1="438.2" x2="332.8" y2="441.2" stroke="#c4c4c4" stroke-width="0.9"/>
<text transform="translate(335.01,449.08) rotate(-90) scale(1.0000,1)" font-family="Liberation Sans" font-weight="normal" font-size="6.400" fill="#444" stroke="#444" stroke-width="0.15">50</text>
<line x1="342.82" y1="438.2" x2="342.82" y2="441.2" stroke="#c4c4c4" stroke-width="0.9"/>
<text transform="translate(345.03,449.08) rotate(-90) scale(1.0000,1)" font-family="Liberation Sans" font-weight="normal" font-size="6.400" fill="#444" stroke="#444" stroke-width="0.15">60</text>
<line x1="352.84" y1="438.2" x2="352.84" y2="441.2" stroke="#c4c4c4" stroke-width="0.9"/>
<text transform="translate(355.05,449.08) rotate(-90) scale(1.0000,1)" font-family="Liberation Sans" font-weight="normal" font-size="6.400" fill="#444" stroke="#444" stroke-width="0.15">70</text>
<line x1="362.86" y1="438.2" x2="362.86" y2="441.2" stroke="#c4c4c4" stroke-width="0.9"/>
<text transform="translate(365.07,449.08) rotate(-90) scale(1.0000,1)" font-family="Liberation Sans" font-weight="normal" font-size="6.400" fill="#444" stroke="#444" stroke-width="0.15">80</text>
<line x1="372.88" y1="438.2" x2="372.88" y2="441.2" stroke="#c4c4c4" stroke-width="0.9"/>
<text transform="translate(375.09,449.08) rotate(-90) scale(1.0000,1)" font-family="Liberation Sans" font-weight="normal" font-size="6.400" fill="#444" stroke="#444" stroke-width="0.15">90</text>
<line x1="382.9" y1="438.2" x2="382.9" y2="441.2" stroke="#c4c4c4" stroke-width="0.9"/>
<text transform="translate(385.11,452.63) rotate(-90) scale(1.0000,1)" font-family="Liberation Sans" font-weight="normal" font-size="6.400" fill="#444" stroke="#444" stroke-width="0.15">100</text>
<line x1="392.92" y1="438.2" x2="392.92" y2="441.2" stroke="#c4c4c4" stroke-width="0.9"/>
<text transform="translate(395.13,452.18) rotate(-90) scale(1.0000,1)" font-family="Liberation Sans" font-weight="normal" font-size="6.400" fill="#444" stroke="#444" stroke-width="0.15">110</text>
<line x1="404.2" y1="438.2" x2="404.2" y2="441.2" stroke="#c4c4c4" stroke-width="0.9"/>
<text transform="translate(406.41,449.08) rotate(-90) scale(1.0000,1)" font-family="Liberation Sans" font-weight="normal" font-size="6.400" fill="#444" stroke="#444" stroke-width="0.15">20</text>
<line x1="414.32" y1="438.2" x2="414.32" y2="441.2" stroke="#c4c4c4" stroke-width="0.9"/>
<text transform="translate(416.53,449.08) rotate(-90) scale(1.0000,1)" font-family="Liberation Sans" font-weight="normal" font-size="6.400" fill="#444" stroke="#444" stroke-width="0.15">30</text>
<line x1="424.44" y1="438.2" x2="424.44" y2="441.2" stroke="#c4c4c4" stroke-width="0.9"/>
<text transform="translate(426.65,449.08) rotate(-90) scale(1.0000,1)" font-family="Liberation Sans" font-weight="normal" font-size="6.400" fill="#444" stroke="#444" stroke-width="0.15">40</text>
<line x1="434.56" y1="438.2" x2="434.56" y2="441.2" stroke="#c4c4c4" stroke-width="0.9"/>
<text transform="translate(436.77,449.08) rotate(-90) scale(1.0000,1)" font-family="Liberation Sans" font-weight="normal" font-size="6.400" fill="#444" stroke="#444" stroke-width="0.15">50</text>
<line x1="444.68" y1="438.2" x2="444.68" y2="441.2" stroke="#c4c4c4" stroke-width="0.9"/>
<text transform="translate(446.89,449.08) rotate(-90) scale(1.0000,1)" font-family="Liberation Sans" font-weight="normal" font-size="6.400" fill="#444" stroke="#444" stroke-width="0.15">60</text>
<line x1="454.8" y1="438.2" x2="454.8" y2="441.2" stroke="#c4c4c4" stroke-width="0.9"/>
<text transform="translate(457.01,449.08) rotate(-90) scale(1.0000,1)" font-family="Liberation Sans" font-weight="normal" font-size="6.400" fill="#444" stroke="#444" stroke-width="0.15">70</text>
<line x1="474.5" y1="438.2" x2="474.5" y2="441.2" stroke="#c4c4c4" stroke-width="0.9"/>
<text transform="translate(476.71,445.56) rotate(-90) scale(1.0000,1)" font-family="Liberation Sans" font-weight="normal" font-size="6.400" fill="#444" stroke="#444" stroke-width="0.15">4</text>
<line x1="482.92" y1="438.2" x2="482.92" y2="441.2" stroke="#c4c4c4" stroke-width="0.9"/>
<text transform="translate(485.1,445.5) rotate(-90) scale(1.0000,1)" font-family="Liberation Sans" font-weight="normal" font-size="6.400" fill="#444" stroke="#444" stroke-width="0.15">5</text>
<line x1="491.34" y1="438.2" x2="491.34" y2="441.2" stroke="#c4c4c4" stroke-width="0.9"/>
<text transform="translate(493.55,445.5) rotate(-90) scale(1.0000,1)" font-family="Liberation Sans" font-weight="normal" font-size="6.400" fill="#444" stroke="#444" stroke-width="0.15">6</text>
<line x1="499.76" y1="438.2" x2="499.76" y2="441.2" stroke="#c4c4c4" stroke-width="0.9"/>
<text transform="translate(501.97,445.43) rotate(-90) scale(1.0000,1)" font-family="Liberation Sans" font-weight="normal" font-size="6.400" fill="#444" stroke="#444" stroke-width="0.15">7</text>
<line x1="508.18" y1="438.2" x2="508.18" y2="441.2" stroke="#c4c4c4" stroke-width="0.9"/>
<text transform="translate(510.39,445.5) rotate(-90) scale(1.0000,1)" font-family="Liberation Sans" font-weight="normal" font-size="6.400" fill="#444" stroke="#444" stroke-width="0.15">8</text>
<line x1="516.6" y1="438.2" x2="516.6" y2="441.2" stroke="#c4c4c4" stroke-width="0.9"/>
<text transform="translate(518.81,445.46) rotate(-90) scale(1.0000,1)" font-family="Liberation Sans" font-weight="normal" font-size="6.400" fill="#444" stroke="#444" stroke-width="0.15">9</text>
<line x1="525.02" y1="438.2" x2="525.02" y2="441.2" stroke="#c4c4c4" stroke-width="0.9"/>
<text transform="translate(527.23,449.08) rotate(-90) scale(1.0000,1)" font-family="Liberation Sans" font-weight="normal" font-size="6.400" fill="#444" stroke="#444" stroke-width="0.15">10</text>
<text transform="translate(299.86,304.17) rotate(-90) scale(1.0000,1)" font-family="Liberation Serif" font-weight="normal" font-size="10.304" fill="#1a1a1a" stroke="#1a1a1a" stroke-width="0.08">Spheronisation</text>
<text transform="translate(311.91,282.4) rotate(-90) scale(1.0000,1)" font-family="Liberation Serif" font-weight="normal" font-size="9.798" fill="#1a1a1a" stroke="#1a1a1a" stroke-width="0.08">yield</text>
<text transform="translate(299.85,370.57) rotate(-90) scale(1.0000,1)" font-family="Liberation Serif" font-weight="normal" font-size="10.287" fill="#1a1a1a" stroke="#1a1a1a" stroke-width="0.08">Spheronisation</text>
<text transform="translate(311.91,348.4) rotate(-90) scale(1.0000,1)" font-family="Liberation Serif" font-weight="normal" font-size="9.798" fill="#1a1a1a" stroke="#1a1a1a" stroke-width="0.08">yield</text>
<text transform="translate(299.85,436.57) rotate(-90) scale(1.0000,1)" font-family="Liberation Serif" font-weight="normal" font-size="10.287" fill="#1a1a1a" stroke="#1a1a1a" stroke-width="0.08">Spheronisation</text>
<text transform="translate(311.91,414.9) rotate(-90) scale(1.0000,1)" font-family="Liberation Serif" font-weight="normal" font-size="9.798" fill="#1a1a1a" stroke="#1a1a1a" stroke-width="0.08">yield</text>
<text transform="translate(539.07,265.16) rotate(90) scale(1.0000,1)" font-family="Liberation Serif" font-weight="normal" font-size="9.831" fill="#1a1a1a" stroke="#1a1a1a" stroke-width="0.05">Speed</text>
<text transform="translate(538.87,330.71) rotate(90) scale(1.0000,1)" font-family="Liberation Serif" font-weight="normal" font-size="9.826" fill="#1a1a1a" stroke="#1a1a1a" stroke-width="0.05">Load</text>
<text transform="translate(539.23,396.8) rotate(90) scale(1.0000,1)" font-family="Liberation Serif" font-weight="normal" font-size="9.802" fill="#1a1a1a" stroke="#1a1a1a" stroke-width="0.05">Time</text>
<text transform="translate(348.26,274.86) scale(1.0000,1)" font-family="Liberation Serif" font-weight="normal" font-size="9.873" fill="#1a1a1a" stroke="#1a1a1a" stroke-width="0.18">Speed</text>
<text transform="translate(422.91,340.56) scale(1.0000,1)" font-family="Liberation Serif" font-weight="normal" font-size="9.727" fill="#1a1a1a" stroke="#1a1a1a" stroke-width="0.18">Load</text>
<text transform="translate(489.7,406.47) scale(1.0000,1)" font-family="Liberation Serif" font-weight="normal" font-size="10.099" fill="#1a1a1a" stroke="#1a1a1a" stroke-width="0.18">Time</text>
<line x1="399.8" y1="257.5" x2="449.6" y2="246.1" stroke="#f4a3ad" stroke-width="1.35"/>
<line x1="399.8" y1="273.6" x2="449.6" y2="252.1" stroke="#6ec9db" stroke-width="1.35"/>
<line x1="466.5" y1="256.5" x2="516.5" y2="274.3" stroke="#f4a3ad" stroke-width="1.35"/>
<line x1="466.5" y1="272.4" x2="516.5" y2="290.7" stroke="#6ec9db" stroke-width="1.35"/>
<line x1="333" y1="312.4" x2="383" y2="318.8" stroke="#6ec9db" stroke-width="1.35"/>
<line x1="333" y1="324" x2="383" y2="339.9" stroke="#f4a3ad" stroke-width="1.35"/>
<line x1="467.2" y1="316.8" x2="516" y2="318.7" stroke="#6ec9db" stroke-width="1.35"/>
<line x1="467.2" y1="335.2" x2="516" y2="353.6" stroke="#f4a3ad" stroke-width="1.35"/>
<line x1="333" y1="388.9" x2="383" y2="404.8" stroke="#f4a3ad" stroke-width="1.35"/>
<line x1="333" y1="407" x2="383" y2="423.4" stroke="#6ec9db" stroke-width="1.35"/>
<line x1="399.7" y1="401.2" x2="449.9" y2="383.3" stroke="#f4a3ad" stroke-width="1.35"/>
<line x1="399.7" y1="419.6" x2="449.9" y2="385.6" stroke="#6ec9db" stroke-width="1.35"/>
<text transform="translate(453.36,247.64) scale(0.9097,1)" font-family="Liberation Sans" font-weight="normal" font-size="6.479" fill="#333" stroke="#333" stroke-width="0.15">50</text>
<text transform="translate(450.69,252.24) scale(0.8536,1)" font-family="Liberation Sans" font-weight="normal" font-size="6.479" fill="#333" stroke="#333" stroke-width="0.15">100</text>
<text transform="translate(520.24,274.64) scale(0.9842,1)" font-family="Liberation Sans" font-weight="normal" font-size="6.479" fill="#333" stroke="#333" stroke-width="0.15">50</text>
<text transform="translate(517.67,290.64) scale(0.8933,1)" font-family="Liberation Sans" font-weight="normal" font-size="6.479" fill="#333" stroke="#333" stroke-width="0.15">100</text>
<text transform="translate(386.09,318.74) scale(0.9533,1)" font-family="Liberation Sans" font-weight="normal" font-size="6.479" fill="#333" stroke="#333" stroke-width="0.15">65</text>
<text transform="translate(385.93,340.73) scale(0.9635,1)" font-family="Liberation Sans" font-weight="normal" font-size="6.571" fill="#333" stroke="#333" stroke-width="0.15">15</text>
<text transform="translate(519.9,319.04) scale(0.9382,1)" font-family="Liberation Sans" font-weight="normal" font-size="6.479" fill="#333" stroke="#333" stroke-width="0.15">65</text>
<text transform="translate(519.73,354.43) scale(0.9482,1)" font-family="Liberation Sans" font-weight="normal" font-size="6.571" fill="#333" stroke="#333" stroke-width="0.15">15</text>
<text transform="translate(389.53,405.24) scale(1.0398,1)" font-family="Liberation Sans" font-weight="normal" font-size="6.479" fill="#333" stroke="#333" stroke-width="0.15">3</text>
<text transform="translate(389.49,423.34) scale(1.0622,1)" font-family="Liberation Sans" font-weight="normal" font-size="6.479" fill="#333" stroke="#333" stroke-width="0.15">9</text>
<text transform="translate(455.78,383.84) scale(1.2348,1)" font-family="Liberation Sans" font-weight="normal" font-size="6.479" fill="#333" stroke="#333" stroke-width="0.15">3</text>
<text transform="translate(455.73,385.44) scale(1.2613,1)" font-family="Liberation Sans" font-weight="normal" font-size="6.479" fill="#333" stroke="#333" stroke-width="0.15">9</text>
<text transform="translate(332.84,236) scale(1.1578,1)" font-family="Liberation Serif" font-weight="bold" font-size="9.160" fill="#1a1a1a" stroke="#1a1a1a" stroke-width="0.25">D</text>
</svg></body></html>
